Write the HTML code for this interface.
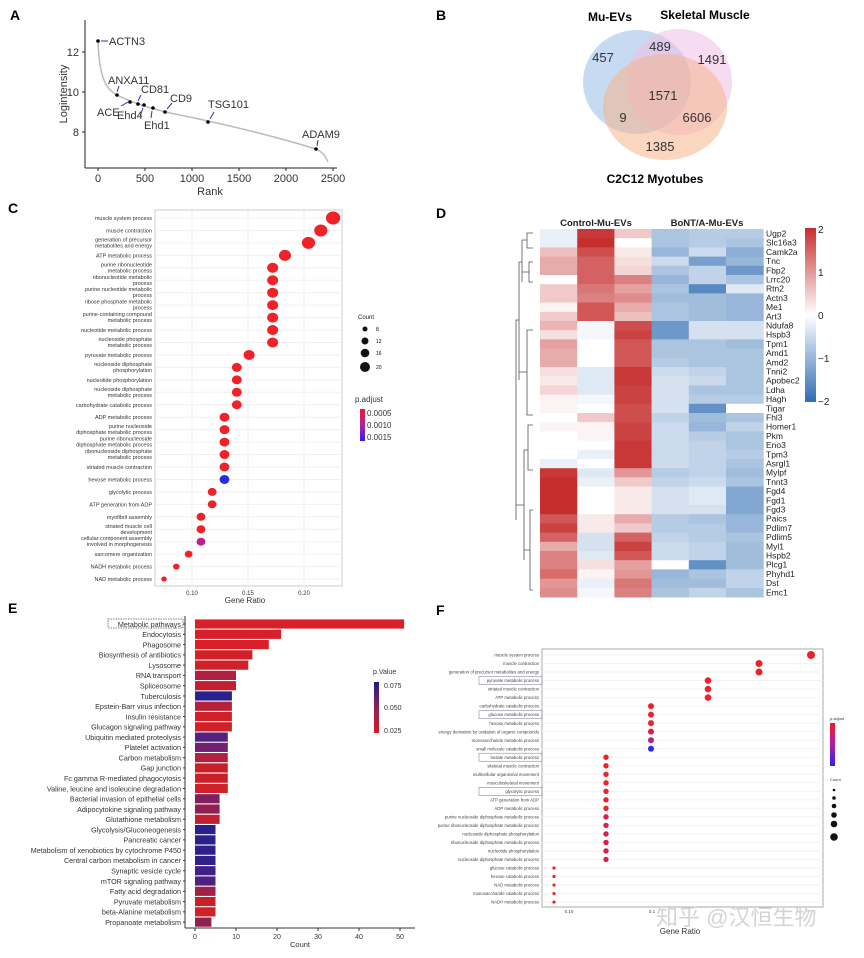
<!DOCTYPE html><html><head><meta charset="utf-8"><style>
body{margin:0;background:#fff;width:864px;height:953px;overflow:hidden}
svg{font-family:"Liberation Sans",Arial,sans-serif}
</style></head><body>
<svg id="s" width="864" height="953" xmlns="http://www.w3.org/2000/svg">
<g font-weight="bold" font-size="14">
<text x="10" y="20">A</text><text x="436" y="20">B</text><text x="8" y="213">C</text><text x="436" y="218">D</text><text x="8" y="613">E</text><text x="436" y="615">F</text></g>
<!-- A -->
<g font-size="11" fill="#333">
<line x1="85" y1="20" x2="85" y2="168" stroke="#222"/><line x1="85" y1="168" x2="337" y2="168" stroke="#222"/>
<g stroke="#222"><line x1="82" y1="52" x2="85" y2="52"/><line x1="82" y1="92" x2="85" y2="92"/><line x1="82" y1="132" x2="85" y2="132"/>
<line x1="98" y1="168" x2="98" y2="171"/><line x1="145" y1="168" x2="145" y2="171"/><line x1="192" y1="168" x2="192" y2="171"/><line x1="239" y1="168" x2="239" y2="171"/><line x1="286" y1="168" x2="286" y2="171"/><line x1="333" y1="168" x2="333" y2="171"/></g>
<text x="79" y="56" text-anchor="end">12</text><text x="79" y="96" text-anchor="end">10</text><text x="79" y="136" text-anchor="end">8</text>
<g text-anchor="middle"><text x="98" y="182">0</text><text x="145" y="182">500</text><text x="192" y="182">1000</text><text x="239" y="182">1500</text><text x="286" y="182">2000</text><text x="333" y="182">2500</text>
<text x="210" y="195">Rank</text></g>
<text transform="translate(67,94) rotate(-90)" text-anchor="middle">Logintensity</text>
<path d="M98,41 C99,70 103,88 117,95 C135,104 150,108 170,113 C230,125 280,138 316,149 C322,152 325,155 328,162" fill="none" stroke="#bbb" stroke-width="1.5"/>
<g fill="#000"><circle cx="98" cy="41" r="1.8"/><circle cx="117" cy="95" r="1.8"/><circle cx="130" cy="102" r="1.8"/><circle cx="138" cy="104" r="1.8"/><circle cx="144" cy="105" r="1.8"/><circle cx="153" cy="108" r="1.8"/><circle cx="165" cy="112" r="1.8"/><circle cx="208" cy="122" r="1.8"/><circle cx="316" cy="149" r="1.8"/></g>
<g stroke="#33a" stroke-width="1"><line x1="101" y1="41" x2="108" y2="41"/><line x1="117" y1="92" x2="119" y2="86"/><line x1="128" y1="102" x2="121" y2="106"/><line x1="138" y1="101" x2="141" y2="95"/><line x1="143" y1="108" x2="140" y2="116"/><line x1="152" y1="111" x2="151" y2="118"/><line x1="167" y1="109" x2="172" y2="103"/><line x1="210" y1="119" x2="214" y2="112"/><line x1="317" y1="146" x2="318" y2="140"/></g>
<text x="109" y="45">ACTN3</text><text x="108" y="84">ANXA11</text><text x="97" y="116">ACE</text><text x="141" y="93">CD81</text><text x="117" y="119">Ehd4</text><text x="144" y="129">Ehd1</text><text x="170" y="102">CD9</text><text x="208" y="108">TSG101</text><text x="302" y="138">ADAM9</text>
</g>
<!-- B -->
<g>
<ellipse cx="637" cy="82" rx="54" ry="52" fill="#a8c8ea" opacity="0.65"/>
<ellipse cx="679" cy="82" rx="53" ry="53" fill="#efbde6" opacity="0.55"/>
<ellipse cx="665" cy="107" rx="62" ry="53" fill="#f6b48c" opacity="0.55"/>
<g font-size="13" text-anchor="middle" fill="#333"><text x="603" y="62">457</text><text x="660" y="51">489</text><text x="712" y="64">1491</text><text x="663" y="100">1571</text><text x="623" y="122">9</text><text x="697" y="122">6606</text><text x="660" y="151">1385</text></g>
<g font-size="12" font-weight="bold" text-anchor="middle"><text x="610" y="21">Mu-EVs</text><text x="705" y="19">Skeletal Muscle</text><text x="655" y="183">C2C12 Myotubes</text></g>
</g>
<g id="C"></g><g id="D"></g><g id="E"></g><g id="F"></g>
<defs>
<linearGradient id="gpa" x1="0" y1="0" x2="0" y2="1"><stop offset="0" stop-color="#f01c24"/><stop offset="0.5" stop-color="#b020a0"/><stop offset="1" stop-color="#3020f0"/></linearGradient>
<linearGradient id="gpv" x1="0" y1="0" x2="0" y2="1"><stop offset="0" stop-color="#241a8c"/><stop offset="0.5" stop-color="#902050"/><stop offset="1" stop-color="#d81c24"/></linearGradient>
<linearGradient id="ghm" x1="0" y1="0" x2="0" y2="1"><stop offset="0" stop-color="#c62e2e"/><stop offset="0.5" stop-color="#ffffff"/><stop offset="1" stop-color="#2f6db3"/></linearGradient>
</defs>
</svg>
<script>
const NS="http://www.w3.org/2000/svg";
function el(p,t,a,txt){const e=document.createElementNS(NS,t);for(const k in a)e.setAttribute(k,a[k]);if(txt!==undefined)e.textContent=txt;p.appendChild(e);return e;}
// C
(function(){const g=document.getElementById('C');
el(g,'rect',{x:155,y:210,width:187,height:376,fill:'#fff',stroke:'#ccc'});
const L=[["muscle system process"],["muscle contraction"],["generation of precursor","metabolites and energy"],["ATP metabolic process"],["purine ribonucleotide","metabolic process"],["ribonucleotide metabolic","process"],["purine nucleotide metabolic","process"],["ribose phosphate metabolic","process"],["purine-containing compound","metabolic process"],["nucleotide metabolic process"],["nucleoside phosphate","metabolic process"],["pyruvate metabolic process"],["nucleoside diphosphate","phosphorylation"],["nucleotide phosphorylation"],["nucleoside diphosphate","metabolic process"],["carbohydrate catabolic process"],["ADP metabolic process"],["purine nucleoside","diphosphate metabolic process"],["purine ribonucleoside","diphosphate metabolic process"],["ribonucleoside diphosphate","metabolic process"],["striated muscle contraction"],["hexose metabolic process"],["glycolytic process"],["ATP generation from ADP"],["myofibril assembly"],["striated muscle cell","development"],["cellular component assembly","involved in morphogenesis"],["sarcomere organization"],["NADH metabolic process"],["NAD metabolic process"]];
const X=[.226,.215,.204,.183,.172,.172,.172,.172,.172,.172,.172,.151,.140,.140,.140,.140,.129,.129,.129,.129,.129,.129,.118,.118,.108,.108,.108,.097,.086,.075];
const R=[6.5,6,6,5.5,5,5,5,5,5,5,5,5,4.5,4.5,4.5,4.5,4.5,4.5,4.5,4.5,4.5,4.5,4,4,4,4,4,3.5,3,2.5];
for(let x=0.10;x<=0.201;x+=0.05){const px=192+(x-0.10)*1120;el(g,'line',{x1:px,y1:210,x2:px,y2:586,stroke:'#eee'});el(g,'text',{x:px,y:595,'font-size':6,'text-anchor':'middle',fill:'#333'},x.toFixed(2));}
L.forEach((l,i)=>{const y=218+i*12.45;el(g,'line',{x1:155,y1:y,x2:342,y2:y,stroke:'#f0f0f0'});
 if(l.length==1)el(g,'text',{x:152,y:y+2,'font-size':5.5,'text-anchor':'end',fill:'#333'},l[0]);
 else{el(g,'text',{x:152,y:y-1.5,'font-size':5.5,'text-anchor':'end',fill:'#333'},l[0]);el(g,'text',{x:152,y:y+4.5,'font-size':5.5,'text-anchor':'end',fill:'#333'},l[1]);}
 const c=i==21?'#2a2ae8':(i==26?'#c0208a':'#ee2228');
 el(g,'ellipse',{cx:192+(X[i]-0.10)*1120,cy:y,rx:R[i]*1.1,ry:R[i],fill:c});});
el(g,'text',{x:245,y:603,'font-size':8,'text-anchor':'middle',fill:'#333'},'Gene Ratio');
el(g,'text',{x:358,y:319,'font-size':6,fill:'#222'},'Count');
[[329,2.5,'8'],[341,3.5,'12'],[353,4.3,'16'],[367,5,'20']].forEach(a=>{el(g,'circle',{cx:365,cy:a[0],r:a[1],fill:'#111'});el(g,'text',{x:376,y:a[0]+2,'font-size':5},a[2]);});
el(g,'text',{x:355,y:402,'font-size':8,fill:'#333'},'p.adjust');
el(g,'rect',{x:360,y:409,width:5,height:32,fill:'url(#gpa)'});
[['0.0005',416],['0.0010',428],['0.0015',440]].forEach(a=>el(g,'text',{x:367,y:a[1],'font-size':8,fill:'#333'},a[0]));
})();
// D heatmap
(function(){const g=document.getElementById('D');
const names="Ugp2 Slc16a3 Camk2a Tnc Fbp2 Lrrc20 Rtn2 Actn3 Me1 Art3 Ndufa8 Hspb3 Tpm1 Amd1 Amd2 Tnni2 Apobec2 Ldha Hagh Tigar Fhl3 Homer1 Pkm Eno3 Tpm3 Asrgl1 Mylpf Tnnt3 Fgd4 Fgd1 Fgd3 Paics Pdlim7 Pdlim5 Myl1 Hspb2 Plcg1 Phyhd1 Dst Emc1".split(' ');
const V=[[-.2,1.9,.5,-.8,-.7,-.7],[-.2,2,0,-.8,-.7,-.8],[.6,1.7,.2,-1,-.5,-1.1],[.8,1.5,.3,-.5,-1.3,-1],[.8,1.5,.4,-.8,-.6,-1.4],[0,1.5,1.2,-1,-.6,-.8],[.5,1.3,.9,-.8,-1.6,-.3],[.5,1.2,1.1,-.9,-.9,-1],[.1,1.6,.8,-.8,-.9,-1],[.5,1.6,.6,-.8,-.9,-1],[.7,-.1,1.7,-1.4,-.4,-.4],[.3,-.1,1.8,-1.4,-.4,-.4],[.9,0,1.6,-.8,-.8,-.9],[.8,0,1.6,-.8,-.8,-.8],[.8,0,1.6,-.7,-.8,-.8],[.3,-.3,1.9,-.5,-.6,-.8],[.2,-.3,1.9,-.4,-.5,-.8],[.4,-.3,1.8,-.4,-.8,-.8],[.1,-.1,1.8,-.4,-.7,-.7],[.1,0,1.7,-.4,-1.5,0],[0,.5,1.7,-.6,-.9,-.8],[.1,.1,1.8,-.5,-1,-.6],[0,.1,1.8,-.5,-.7,-.8],[0,0,1.9,-.5,-.6,-.8],[0,-.2,1.9,-.5,-.6,-.7],[-.2,0,1.9,-.5,-.6,-.8],[1.9,-.3,1,-.7,-.6,-.9],[2,-.2,.5,-.6,-.5,-.8],[2,0,.2,-.4,-.3,-1.2],[2,0,.2,-.4,-.3,-1.2],[2,0,.2,-.4,-.4,-1.2],[1.6,.2,.8,-.7,-.8,-1],[1.8,.2,.5,-.7,-.7,-1],[1.5,-.4,1.5,-.6,-.7,-.8],[.8,-.4,1.8,-.5,-.6,-.9],[1.2,-.3,1.6,-.5,-.6,-.9],[1.2,.3,.9,0,-1.5,-.9],[1.4,.1,1,-1,-.8,-.6],[1,-.2,1.3,-.9,-.9,-.6],[1.1,-.1,1.2,-.8,-.6,-.8]];
function col(v){v=Math.max(-2,Math.min(2,v))/2;if(v>=0){return `rgb(${255-57*v|0},${255-209*v|0},${255-209*v|0})`}v=-v;return `rgb(${255-208*v|0},${255-146*v|0},${255-76*v|0})`;}
const top=229,h=9.2,x0=540,w=37.2;
V.forEach((r,i)=>{r.forEach((v,j)=>el(g,'rect',{x:x0+j*w,y:top+i*h,width:w+.5,height:h+.5,fill:col(v)}));el(g,'text',{x:766,y:top+i*h+7.5,'font-size':8.5,fill:'#222'},names[i]);});
el(g,'text',{x:596,y:226,'font-size':9.5,'font-weight':'bold','text-anchor':'middle',fill:'#222'},'Control-Mu-EVs');
el(g,'text',{x:707,y:226,'font-size':9.5,'font-weight':'bold','text-anchor':'middle',fill:'#222'},'BoNT/A-Mu-EVs');
el(g,'rect',{x:805,y:228,width:11,height:174,fill:'url(#ghm)'});
[['2',233],['1',276],['0',319],['\u22121',362],['\u22122',405]].forEach(a=>el(g,'text',{x:818,y:a[1],'font-size':10,fill:'#222'},a[0]));
let d='M533,233 H527 V248 H533 M527,240 H522 V282 M533,262 H529 V282 H533 M529,272 H522 M522,262 H519 V380 M533,330 H527 V415 H533 M527,372 H519 M519,320 H516 V520 M533,425 H528 V470 H533 M528,450 H524 V560 M533,510 H530 V590 H533 M530,550 H524 M524,505 H516';
el(g,'path',{d:d,fill:'none',stroke:'#555','stroke-width':0.8});
})();
// E
(function(){const g=document.getElementById('E');
const L=["Metabolic pathways","Endocytosis","Phagosome","Biosynthesis of antibiotics","Lysosome","RNA transport","Spliceosome","Tuberculosis","Epstein-Barr virus infection","Insulin resistance","Glucagon signaling pathway","Ubiquitin mediated proteolysis","Platelet activation","Carbon metabolism","Gap junction","Fc gamma R-mediated phagocytosis","Valine, leucine and isoleucine degradation","Bacterial invasion of epithelial cells","Adipocytokine signaling pathway","Glutathione metabolism","Glycolysis/Gluconeogenesis","Pancreatic cancer","Metabolism of xenobiotics by cytochrome P450","Central carbon metabolism in cancer","Synaptic vesicle cycle","mTOR signaling pathway","Fatty acid degradation","Pyruvate metabolism","beta-Alanine metabolism","Propanoate metabolism"];
const N=[51,21,18,14,13,10,10,9,9,9,9,8,8,8,8,8,8,6,6,6,5,5,5,5,5,5,5,5,5,4];
const C=['#d8202a','#d8202a','#d8202a','#d02028','#d02028','#b02040','#c02030','#28208c','#b82038','#d02028','#d02028','#552080','#702070','#b02040','#c82028','#c82028','#d02028','#802060','#902050','#c02030','#28208c','#2c208a','#30208a','#30208a','#402084','#502080','#a02048','#c82028','#d02028','#902050'];
L.forEach((l,i)=>{const y=624+i*10.28;el(g,'rect',{x:195,y:y-4.6,width:N[i]*4.1,height:9.2,fill:C[i]});el(g,'line',{x1:183,y1:y,x2:185,y2:y,stroke:'#333'});el(g,'text',{x:181,y:y+2.8,'font-size':7.2,'text-anchor':'end',fill:'#333'},l);});
el(g,'rect',{x:108,y:619,width:75,height:9,fill:'none',stroke:'#557','stroke-dasharray':'1.5,1','stroke-width':0.8});
el(g,'line',{x1:185,y1:616,x2:185,y2:928,stroke:'#333'});el(g,'line',{x1:185,y1:928,x2:415,y2:928,stroke:'#333'});
[0,10,20,30,40,50].forEach(v=>{const x=195+v*4.1;el(g,'line',{x1:x,y1:928,x2:x,y2:931,stroke:'#333'});el(g,'text',{x:x,y:939,'font-size':7,'text-anchor':'middle',fill:'#333'},v);});
el(g,'text',{x:300,y:947,'font-size':7.5,'text-anchor':'middle',fill:'#333'},'Count');
el(g,'text',{x:373,y:674,'font-size':7,fill:'#333'},'p.Value');
el(g,'rect',{x:374,y:682,width:5,height:51,fill:'url(#gpv)'});
[['0.075',688],['0.050',710],['0.025',733]].forEach(a=>el(g,'text',{x:384,y:a[1],'font-size':7,fill:'#333'},a[0]));
})();
// F
(function(){const g=document.getElementById('F');
el(g,'rect',{x:542,y:649,width:281,height:258,fill:'#fff',stroke:'#aaa'});
const L=["muscle system process","muscle contraction","generation of precursor metabolites and energy","pyruvate metabolic process","striated muscle contraction","ATP metabolic process","carbohydrate catabolic process","glucose metabolic process","hexose metabolic process","energy derivation by oxidation of organic compounds","monosaccharide metabolic process","small molecule catabolic process","lactate metabolic process","skeletal muscle contraction","multicellular organismal movement","musculoskeletal movement","glycolytic process","ATP generation from ADP","ADP metabolic process","purine nucleoside diphosphate metabolic process","purine ribonucleoside diphosphate metabolic process","nucleoside diphosphate phosphorylation","ribonucleoside diphosphate metabolic process","nucleotide phosphorylation","nucleoside diphosphate metabolic process","glucose catabolic process","hexose catabolic process","NAD metabolic process","monosaccharide catabolic process","NADH metabolic process"];
const X=[811,759,759,708,708,708,651,651,651,651,651,651,606,606,606,606,606,606,606,606,606,606,606,606,606,554,554,554,554,554];
const R=[4,3.5,3.5,3.3,3.3,3.3,3,3,3,3,3,3,2.7,2.7,2.7,2.7,2.7,2.7,2.7,2.7,2.7,2.7,2.7,2.7,2.7,1.6,1.6,1.6,1.6,1.6];
const box=[3,7,12,16];
L.forEach((l,i)=>{const y=655+i*8.52;el(g,'line',{x1:542,y1:y,x2:823,y2:y,stroke:'#f2f2f2'});el(g,'text',{x:539,y:y+1.6,'font-size':4.3,'text-anchor':'end',fill:'#444'},l);
 if(box.includes(i))el(g,'rect',{x:479,y:y-4,width:63,height:8,fill:'none',stroke:'#88a','stroke-width':0.6});
 let c='#ee2228';if(i==11)c='#2a2ae8';else if(i==10)c='#b02080';else if(i==9||i>=19&&i<=24)c='#d82050';
 el(g,'circle',{cx:X[i],cy:y,r:R[i],fill:c});});
el(g,'text',{x:569,y:913,'font-size':4.5,'text-anchor':'middle',fill:'#444'},'0.10');
el(g,'text',{x:652,y:913,'font-size':4.5,'text-anchor':'middle',fill:'#444'},'0.1');
el(g,'text',{x:656,y:925,'font-size':22,fill:'#d4d4d4','font-family':'"Liberation Sans","Noto Sans CJK SC",sans-serif'},'知乎 @汉恒生物');
el(g,'text',{x:680,y:934,'font-size':8,'text-anchor':'middle',fill:'#333'},'Gene Ratio');
el(g,'text',{x:830,y:720,'font-size':4,fill:'#333'},'p.adjust');
el(g,'rect',{x:830,y:723,width:5,height:43,fill:'url(#gpa)'});
el(g,'text',{x:830,y:781,'font-size':4,fill:'#333'},'Count');
[790,798,806,815,824,837].forEach((y,i)=>{el(g,'circle',{cx:834,cy:y,r:1.3+i*0.5,fill:'#111'});});
})();
</script>
</body></html>
